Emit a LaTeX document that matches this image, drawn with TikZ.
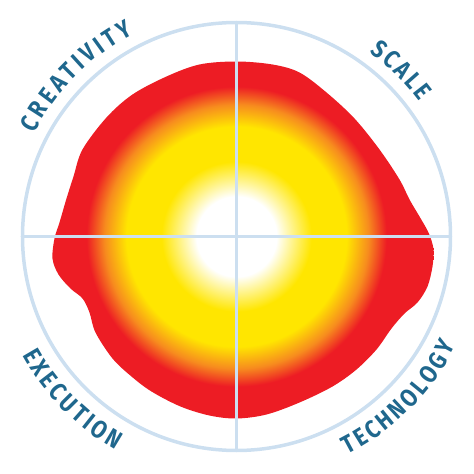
\documentclass[tikz,border=0pt]{standalone}
\usepackage{fontspec}
\newfontfamily\lblfont{Fira Sans}[FakeStretch=0.85]
\usetikzlibrary{decorations.text}
\definecolor{ringblue}{RGB}{204,223,240}
\definecolor{lbltext}{RGB}{31,103,141}
\definecolor{hotred}{RGB}{237,28,36}
\definecolor{hotyellow}{RGB}{255,230,0}
\definecolor{hotorange}{RGB}{247,140,30}
\pgfdeclareradialshading{heat}{\pgfpoint{0bp}{0bp}}{color(0bp)=(white); color(4bp)=(white); color(7.5bp)=(hotyellow); color(11bp)=(hotyellow); color(13.2bp)=(hotorange); color(15bp)=(hotred); color(50bp)=(hotred)}
\newcommand{\lbltxt}{\lblfont\bfseries\fontsize{25}{25}\selectfont}
\begin{document}
\begin{tikzpicture}[x=1pt,y=1pt,
  ring/.style={draw=ringblue,line width=3.5pt},
  arclabel/.style={decorate,decoration={text along path,text align=fit to path,text color=lbltext,text={|\lbltxt|#1}}}]
\useasboundingbox (-236.5,-237.5) rectangle (237.5,236.5);
\begin{scope}
\clip plot[smooth cycle,tension=0.55] coordinates {
 (195,-4) (191,6) (183,20) (173,37) (163,57) (143,87) (118,118) (90,144) (63,164) (36,172) (0,175)
 (-37,172) (-70,160) (-104,142) (-130,119) (-154,87) (-163,60) (-170,38) (-177,14) (-182,-2)
 (-184,-22) (-178,-38) (-166,-52) (-154,-62) (-147,-76) (-141,-96) (-124,-122) (-105,-140) (-85,-155) (-56,-170) (-27,-179) (0,-182)
 (30,-178) (63,-166) (96,-150) (120,-133) (140,-113) (155,-92) (168,-77) (181,-66) (191,-50) (196,-30) (197,-14)};
\shade[shading=heat] (0,0) circle (250);
\end{scope}
\draw[ring] (0,0) circle (214);
\draw[ring] (-214,0) -- (214,0);
\draw[ring] (0,-214) -- (0,214);
\path[arclabel=CREATIVITY] (153:227) arc[start angle=153,end angle=117,radius=227];
\path[arclabel=SCALE] (54:227) arc[start angle=54,end angle=36.5,radius=227];
\path[arclabel=EXECUTION] (209:245) arc[start angle=209,end angle=240.5,radius=245];
\path[arclabel=TECHNOLOGY] (297:245) arc[start angle=297,end angle=333.5,radius=245];
\end{tikzpicture}
\end{document}
